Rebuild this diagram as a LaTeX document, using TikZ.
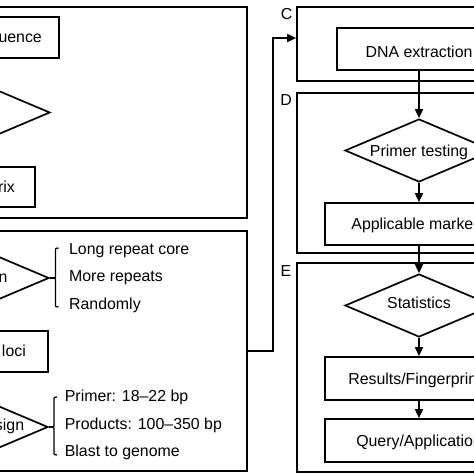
\documentclass[tikz,border=0pt]{standalone}
\usepackage{fontspec}
\setmainfont{Liberation Sans}
\usetikzlibrary{arrows.meta,shapes.geometric}
\begin{document}
\begin{tikzpicture}[x=1pt,y=-1pt,line width=1.7pt,
  font=\fontsize{15.9pt}{19pt}\selectfont,
  panel/.style={draw,rectangle,inner sep=0pt},
  box/.style={draw,rectangle,inner sep=0pt,text height=11.4pt,text depth=0pt},
  dia/.style={draw,diamond,aspect=2.35,inner sep=0pt,minimum width=148pt,minimum height=63pt,text height=11.4pt,text depth=0pt},
  frag/.style={inner sep=0pt,anchor=base east},
  item/.style={inner sep=0pt,anchor=base west},
  lab/.style={inner sep=0pt,anchor=base},
  arr/.style={-{Triangle[length=9pt,width=8pt]}},
  brace/.style={line width=1.3pt}]
\useasboundingbox (0,0) rectangle (474,474);
\clip (0,0) rectangle (474,474);
% panels
\node[panel,minimum width=547pt,minimum height=211.3pt] (A) at (-26.5,112.35) {};
\node[panel,minimum width=547pt,minimum height=240pt] (B) at (-26.5,351) {};
\node[panel,minimum width=244pt,minimum height=74pt] (C) at (419,44) {};
\node[panel,minimum width=244pt,minimum height=160pt] (D) at (419,173) {};
\node[panel,minimum width=244pt,minimum height=209pt] (E) at (419,367.5) {};
\node[lab] (labC) at (286.7,19.7) {C};
\node[lab] (labD) at (286,105.7) {D};
\node[lab] (labE) at (286,276.4) {E};
% left panel shapes
\node[panel,minimum width=159pt,minimum height=41pt] (seq) at (-20.5,37.5) {};
\node[dia] (d1) at (-24,112.5) {};
\node[panel,minimum width=135pt,minimum height=40pt] (mat) at (-32.5,187) {};
\node[dia] (d2) at (-25,278) {};
\node[panel,minimum width=148pt,minimum height=41pt] (loci) at (-26,351.5) {};
\node[dia] (d3) at (-26,427) {};
\node[frag] (tseq) at (42.7,42.3) {uence};
\node[frag] (tmat) at (15.7,192.7) {rix};
\node[frag] (td2) at (8.3,282.3) {n};
\node[frag] (tloci) at (26.7,356.7) {loci};
\node[frag] (td3) at (25,430.7) {sign};
% braces
\coordinate (b1) at (52.7,278);
\coordinate (b2) at (51.3,427);
\draw (d2.east) -- (b1);
\draw (d3.east) -- (b2);
\draw[brace] (58.5,248) .. controls (55.5,248) .. (55.5,251.5) -- (55.5,274.5) .. controls (55.5,278) .. (b1)
  .. controls (55.5,278) .. (55.5,281.5) -- (55.5,303.5) .. controls (55.5,307) .. (58.5,307);
\draw[brace] (57,397) .. controls (54,397) .. (54,400.5) -- (54,423.5) .. controls (54,427) .. (b2)
  .. controls (54,427) .. (54,430.5) -- (54,451.5) .. controls (54,455) .. (57,455);
\node[item] (i1) at (68.3,254.3) {Long repeat core};
\node[item] (i2) at (68.3,281.7) {More repeats};
\node[item] (i3) at (68.3,309) {Randomly};
\node[item] (i4) at (64,401.7) {Primer: 18–22 bp};
\node[item] (i5) at (64,429) {Products: 100–350 bp};
\node[item] (i6) at (64,456.7) {Blast to genome};
% right flow
\node[box,minimum width=164pt,minimum height=42pt,text height=16.8pt] (dna) at (419,49) {DNA extraction};
\node[dia] (pt) at (419,150.5) {Primer testing};
\node[box,minimum width=188pt,minimum height=42pt] (app) at (419,224) {Applicable markers};
\node[dia,text depth=6pt] (st) at (419,305.5) {Statistics};
\node[box,minimum width=188pt,minimum height=43pt] (res) at (419,378.5) {Results/Fingerprints};
\node[box,minimum width=188pt,minimum height=43pt] (qry) at (419,440.5) {Query/Application};
\draw[arr] (dna) -- (pt);
\draw[arr] (pt) -- (app);
\draw[arr] (app) -- (st);
\draw[arr] (st) -- (res);
\draw[arr] (res) -- (qry);
\draw[arr] (B.east) -- ++(25,0) |- ([yshift=6pt]C.west);
\end{tikzpicture}
\end{document}
